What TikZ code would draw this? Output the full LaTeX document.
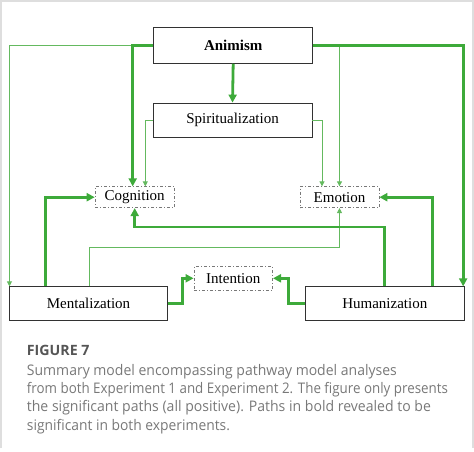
\documentclass[tikz,border=0pt]{standalone}
\usepackage{fontspec}
\usepackage{graphicx}
\setmainfont{Liberation Serif}
\newfontfamily\capfont{Open Sans}
\usetikzlibrary{arrows.meta}
\definecolor{gthick}{RGB}{61,170,58}
\definecolor{gthin}{RGB}{100,185,95}
\definecolor{boxline}{RGB}{50,50,50}
\definecolor{dashline}{RGB}{120,120,120}
\definecolor{framegray}{RGB}{222,222,222}
\definecolor{capgray}{RGB}{120,120,120}
\definecolor{figgray}{RGB}{85,85,85}
\newcommand{\capfit}[2]{\resizebox{#1}{\height}{#2}}
\tikzset{
  solidbox/.style={draw=boxline,line width=0.9pt,inner sep=0pt,font=\fontsize{15}{17}\selectfont},
  dashbox/.style={draw=dashline,line width=0.7pt,dash pattern=on 3pt off 2pt on 1pt off 2pt,inner sep=0pt,font=\fontsize{15}{17}\selectfont},
  bold path/.style={draw=gthick,line width=2.8pt,-{Triangle[length=8pt,width=8pt]}},
  light path/.style={draw=gthin,line width=0.9pt,-{Triangle[length=5pt,width=5pt]}},
  capline/.style={anchor=base west,inner sep=0pt,text=capgray,font=\capfont\fontsize{14.6}{18}\selectfont}
}
\begin{document}
\begin{tikzpicture}[x=1pt,y=-1pt]
\useasboundingbox (0,0) rectangle (474,451);
\draw[framegray,line width=2.5pt] (1.2,448) -- (1.2,1.2) -- (472.8,1.2) -- (472.8,448);
% nodes
\node[solidbox,minimum width=159pt,minimum height=35.6pt,font=\fontsize{15}{17}\selectfont\bfseries] (anim) at (233.2,45.5) {Animism};
\node[solidbox,minimum width=159pt,minimum height=34.3pt] (spir) at (232.5,120.2) {Spiritualization};
\node[dashbox,minimum width=79.3pt,minimum height=21pt] (cog) at (134.7,197.2) {Cognition};
\node[dashbox,minimum width=79pt,minimum height=21pt] (emo) at (339.5,197.2) {Emotion};
\node[solidbox,minimum width=158.4pt,minimum height=34pt] (ment) at (88.5,303.8) {Mentalization};
\node[solidbox,minimum width=159pt,minimum height=34pt] (hum) at (384.8,303.8) {Humanization};
\node[dashbox,minimum width=78.7pt,minimum height=23.3pt] (intent) at (233.3,278.3) {Intention};
% connectors
\draw[light path] (anim.west) -| ([xshift=0.6pt]ment.north west);
\draw[bold path] (anim.west) -| ([xshift=-2pt]cog.north);
\draw[bold path] (anim.south) -- (spir.north);
\draw[light path] (spir.west) -| ([xshift=10.6pt]cog.north);
\draw[light path] (spir.east) -| ([xshift=-17.5pt]emo.north);
\draw[light path] (anim.east -| emo.north) -- (emo.north);
\draw[bold path] (anim.east) -| ([xshift=-1.6pt]hum.north east);
\draw[bold path] ([xshift=36.4pt]ment.north west) |- (cog.west);
\draw[light path] ([xshift=0.5pt]ment.north) -- ++(0,-39.3) -| (emo.south);
\draw[bold path] (hum.north) -- ++(0,-59.3) -| (cog.south);
\draw[bold path] ([xshift=47.5pt]hum.north) |- (emo.east);
\draw[bold path] (ment.east) -- ++(14,0) |- (intent.west);
\draw[bold path] (hum.west) -- ++(-16.3,0) |- (intent.east);
% caption
\node[capline,text=figgray,font=\capfont\fontsize{14.2}{18}\selectfont\bfseries] (figlab) at (26.7,355.7) {\capfit{62.6pt}{FIGURE 7}};
\node[capline] (c1) at (26.7,375) {\capfit{370pt}{Summary model encompassing pathway model analyses}};
\node[capline] (c2) at (26.7,393.3) {\capfit{421pt}{from both Experiment 1 and Experiment 2. The figure only presents}};
\node[capline] (c3) at (26.7,411.7) {\capfit{404pt}{the significant paths (all positive). Paths in bold revealed to be}};
\node[capline] (c4) at (26.7,430) {\capfit{203pt}{significant in both experiments.}};
\end{tikzpicture}
\end{document}
